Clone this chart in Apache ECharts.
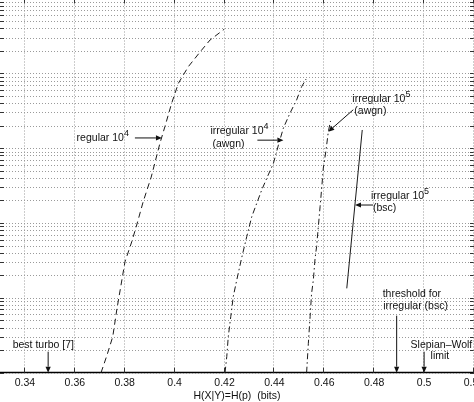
<!DOCTYPE html>
<html><head><meta charset="utf-8">
<script src="https://cdn.jsdelivr.net/npm/echarts@6/dist/echarts.min.js"></script>
<style>html,body{margin:0;padding:0;background:#fff}#c{width:474px;height:402px}</style>
</head><body><div id="c"></div>
<script>
// ---- tick labels / axis values ----
const xTicks = [0.34, 0.36, 0.38, 0.40, 0.42, 0.44, 0.46, 0.48, 0.50, 0.52];
const yDecades = [1e-6, 1e-5, 1e-4, 1e-3, 1e-2];
const yMultipliers = [1, 2, 3, 4, 5, 6, 7, 8, 9];

// ---- series values ----
const regular1e4X = [0.3705, 0.3729, 0.3752, 0.3768, 0.3784, 0.3801, 0.3828, 0.3848, 0.3874, 0.3906, 0.3941, 0.3961, 0.3988, 0.4015, 0.4055, 0.4102, 0.4142, 0.4198];
const regular1e4Y = [1e-6, 1.72e-6, 3.03e-6, 6.88e-6, 1.41e-5, 3.04e-5, 5.6e-5, 9.4e-5, 1.93e-4, 4.1e-4, 1.16e-3, 1.94e-3, 3.98e-3, 7.36e-3, 1.23e-2, 1.93e-2, 2.79e-2, 3.87e-2];

const irr1e4AwgnX = [0.4202, 0.4209, 0.4215, 0.4225, 0.4235, 0.4249, 0.4269, 0.4289, 0.4309, 0.4329, 0.4349, 0.4375, 0.4396, 0.4416, 0.4436, 0.4462, 0.4489, 0.4509, 0.4527];
const irr1e4AwgnY = [1e-6, 1.64e-6, 3.03e-6, 5.6e-6, 1.04e-5, 1.73e-5, 3.46e-5, 6.56e-5, 1.21e-4, 1.83e-4, 2.76e-4, 4.38e-4, 6.28e-4, 1.10e-3, 1.86e-3, 2.92e-3, 4.41e-3, 6.62e-3, 8.4e-3];

const irr1e5AwgnX = [0.4529, 0.4536, 0.4543, 0.4549, 0.4556, 0.4563, 0.4569, 0.4576, 0.4583, 0.4590, 0.4596, 0.4607, 0.4616, 0.4625];
const irr1e5AwgnY = [1e-6, 2.47e-6, 5.6e-6, 1.15e-5, 1.73e-5, 3.38e-5, 4.83e-5, 8.93e-5, 1.65e-4, 3.06e-4, 5.43e-4, 9.46e-4, 1.66e-3, 2.31e-3];

const irr1e5BscX = [0.4690, 0.4752];
const irr1e5BscY = [1.34e-5, 1.75e-3];

// ---- annotations: arrow tips in data coordinates ----
const notes = [
  {tip: [0.3949, 1.37e-3], tail: [-27, 0], lines: [{text: 'regular 10{s|4}', dx: -33, dy: 0, align: 'right'}]},
  {tip: [0.4436, 1.28e-3], tail: [-26, 0], lines: [{text: 'irregular 10{s|4}', dx: -73, dy: -9}, {text: '(awgn)', dx: -71, dy: 4}]},
  {tip: [0.4616, 1.66e-3], tail: [25, -22], lines: [{text: 'irregular 10{s|5}', dx: 24, dy: -33}, {text: '(awgn)', dx: 26, dy: -21}]},
  {tip: [0.4723, 1.74e-4], tail: [18, 0], lines: [{text: 'irregular 10{s|5}', dx: 16, dy: -9}, {text: '(bsc)', dx: 18, dy: 3}]},
  {tip: [0.489, 1e-6], tail: [0, -57], lines: [{text: 'threshold for', dx: -14, dy: -79}, {text: 'irregular (bsc)', dx: -13.5, dy: -67}]},
  {tip: [0.5, 1e-6], tail: [0, -21], lines: [{text: 'Slepian\u2013Wolf', dx: -13.5, dy: -28}, {text: 'limit', dx: 6.5, dy: -17}]},
  {tip: [0.3493, 1e-6], tail: [0, -21], lines: [{text: 'best turbo [7]', dx: -35.5, dy: -28}]}
];

const FONT = '"Liberation Sans", Arial, Helvetica, sans-serif';
const zip = (a, b) => a.map((v, i) => [v, b[i]]);
const yGrid = [];
yDecades.forEach(d => yMultipliers.forEach(m => yGrid.push(m * d)));
yGrid.push(1e-1);

const chart = echarts.init(document.getElementById('c'), null, {renderer: 'canvas'});
const option = {
  animation: false,
  backgroundColor: '#fff',
  grid: {left: 0, right: 0, top: -1.5, bottom: 29.3, containLabel: false, outerBoundsMode: 'none'},
  xAxis: {
    type: 'value', min: 0.33, max: 0.52,
    axisLine: {show: true, onZero: false, lineStyle: {color: '#000', width: 1.3}},
    axisTick: {show: false},
    splitLine: {show: false},
    axisLabel: {customValues: xTicks, margin: 5, color: '#111', fontSize: 10.5, fontFamily: FONT, hideOverlap: false},
    name: 'H(X|Y)=H(p)  (bits)', nameLocation: 'middle', nameGap: 17.5, nameMoveOverlap: false,
    nameTextStyle: {color: '#111', fontSize: 10.5, fontFamily: FONT}
  },
  yAxis: {
    type: 'log', min: 1e-6, max: 1e-1, logBase: 10,
    axisLine: {show: false}, axisTick: {show: false}, axisLabel: {show: false}, splitLine: {show: false}
  },
  series: [
    { // horizontal dotted grid + edge ticks
      type: 'custom', silent: true, z: 1,
      data: yGrid.map(v => [0.4, v]), encode: {x: 0, y: 1},
      renderItem: function (params, api) {
        const cs = params.coordSys;
        const y = Math.round(api.coord([0.4, api.value(1)])[1]) + 0.5;
        const x0 = cs.x, x1 = cs.x + cs.width;
        return {type: 'group', children: [
          {type: 'line', shape: {x1: x0, y1: y, x2: x1, y2: y}, style: {stroke: '#9a9a9a', lineWidth: 1, lineDash: [1, 2]}},
          {type: 'line', shape: {x1: x0, y1: y, x2: x0 + 4, y2: y}, style: {stroke: '#333', lineWidth: 1}},
          {type: 'line', shape: {x1: x1 - 4, y1: y, x2: x1, y2: y}, style: {stroke: '#333', lineWidth: 1}}
        ]};
      }
    },
    { // vertical dotted grid + ticks
      type: 'custom', silent: true, z: 1,
      data: xTicks.map(v => [v, 1e-3]), encode: {x: 0, y: 1},
      renderItem: function (params, api) {
        const cs = params.coordSys;
        const x = Math.round(api.coord([api.value(0), 1e-3])[0]) - 0.5;
        const y0 = cs.y, y1 = cs.y + cs.height;
        return {type: 'group', children: [
          {type: 'line', shape: {x1: x, y1: y0, x2: x, y2: y1}, style: {stroke: '#9a9a9a', lineWidth: 1, lineDash: [1, 2]}},
          {type: 'line', shape: {x1: x, y1: y0, x2: x, y2: y0 + 5}, style: {stroke: '#333', lineWidth: 1}},
          {type: 'line', shape: {x1: x, y1: y1 - 5, x2: x, y2: y1}, style: {stroke: '#333', lineWidth: 1}}
        ]};
      }
    },
    {name: 'regular 1e4', type: 'line', data: zip(regular1e4X, regular1e4Y), showSymbol: false, symbol: 'none', z: 3,
     lineStyle: {color: '#1a1a1a', width: 1, type: [6, 4]}},
    {name: 'irregular 1e4 awgn', type: 'line', data: zip(irr1e4AwgnX, irr1e4AwgnY), showSymbol: false, symbol: 'none', z: 3,
     lineStyle: {color: '#1a1a1a', width: 1, type: [6, 3, 1.5, 3]}},
    {name: 'irregular 1e5 awgn', type: 'line', data: zip(irr1e5AwgnX, irr1e5AwgnY), showSymbol: false, symbol: 'none', z: 3,
     lineStyle: {color: '#1a1a1a', width: 1, type: [6, 3, 1.5, 3]}},
    {name: 'irregular 1e5 bsc', type: 'line', data: zip(irr1e5BscX, irr1e5BscY), showSymbol: false, symbol: 'none', z: 3,
     lineStyle: {color: '#1a1a1a', width: 1, type: 'solid'}}
  ]
};
chart.setOption(option);

const g = [];
notes.forEach(n => {
  const t = chart.convertToPixel({gridIndex: 0}, n.tip);
  const tail = [t[0] + n.tail[0], t[1] + n.tail[1]];
  const dx = t[0] - tail[0], dy = t[1] - tail[1], L = Math.hypot(dx, dy);
  const ux = dx / L, uy = dy / L, nx = -uy, ny = ux;
  const hl = 6, hw = 2.6;
  const b = [t[0] - ux * hl, t[1] - uy * hl];
  g.push({type: 'line', silent: true, z: 10, shape: {x1: tail[0], y1: tail[1], x2: b[0], y2: b[1]}, style: {stroke: '#111', lineWidth: 1}});
  g.push({type: 'polygon', silent: true, z: 10, shape: {points: [t, [b[0] + nx * hw, b[1] + ny * hw], [b[0] - nx * hw, b[1] - ny * hw]]}, style: {fill: '#111'}});
  n.lines.forEach(l => {
    g.push({type: 'text', silent: true, z: 10, x: t[0] + l.dx, y: t[1] + l.dy,
      style: {text: l.text, fill: '#111', fontSize: 10.5, fontFamily: FONT,
        align: l.align || 'left', verticalAlign: 'middle',
        textAlign: l.align || 'left', textVerticalAlign: 'middle',
        rich: {s: {fontSize: 9, fontFamily: FONT, fill: '#111', verticalAlign: 'middle', padding: [0, 0, 9, 0]}}}});
  });
});
chart.setOption({graphic: {elements: g}});
</script>
</body></html>
